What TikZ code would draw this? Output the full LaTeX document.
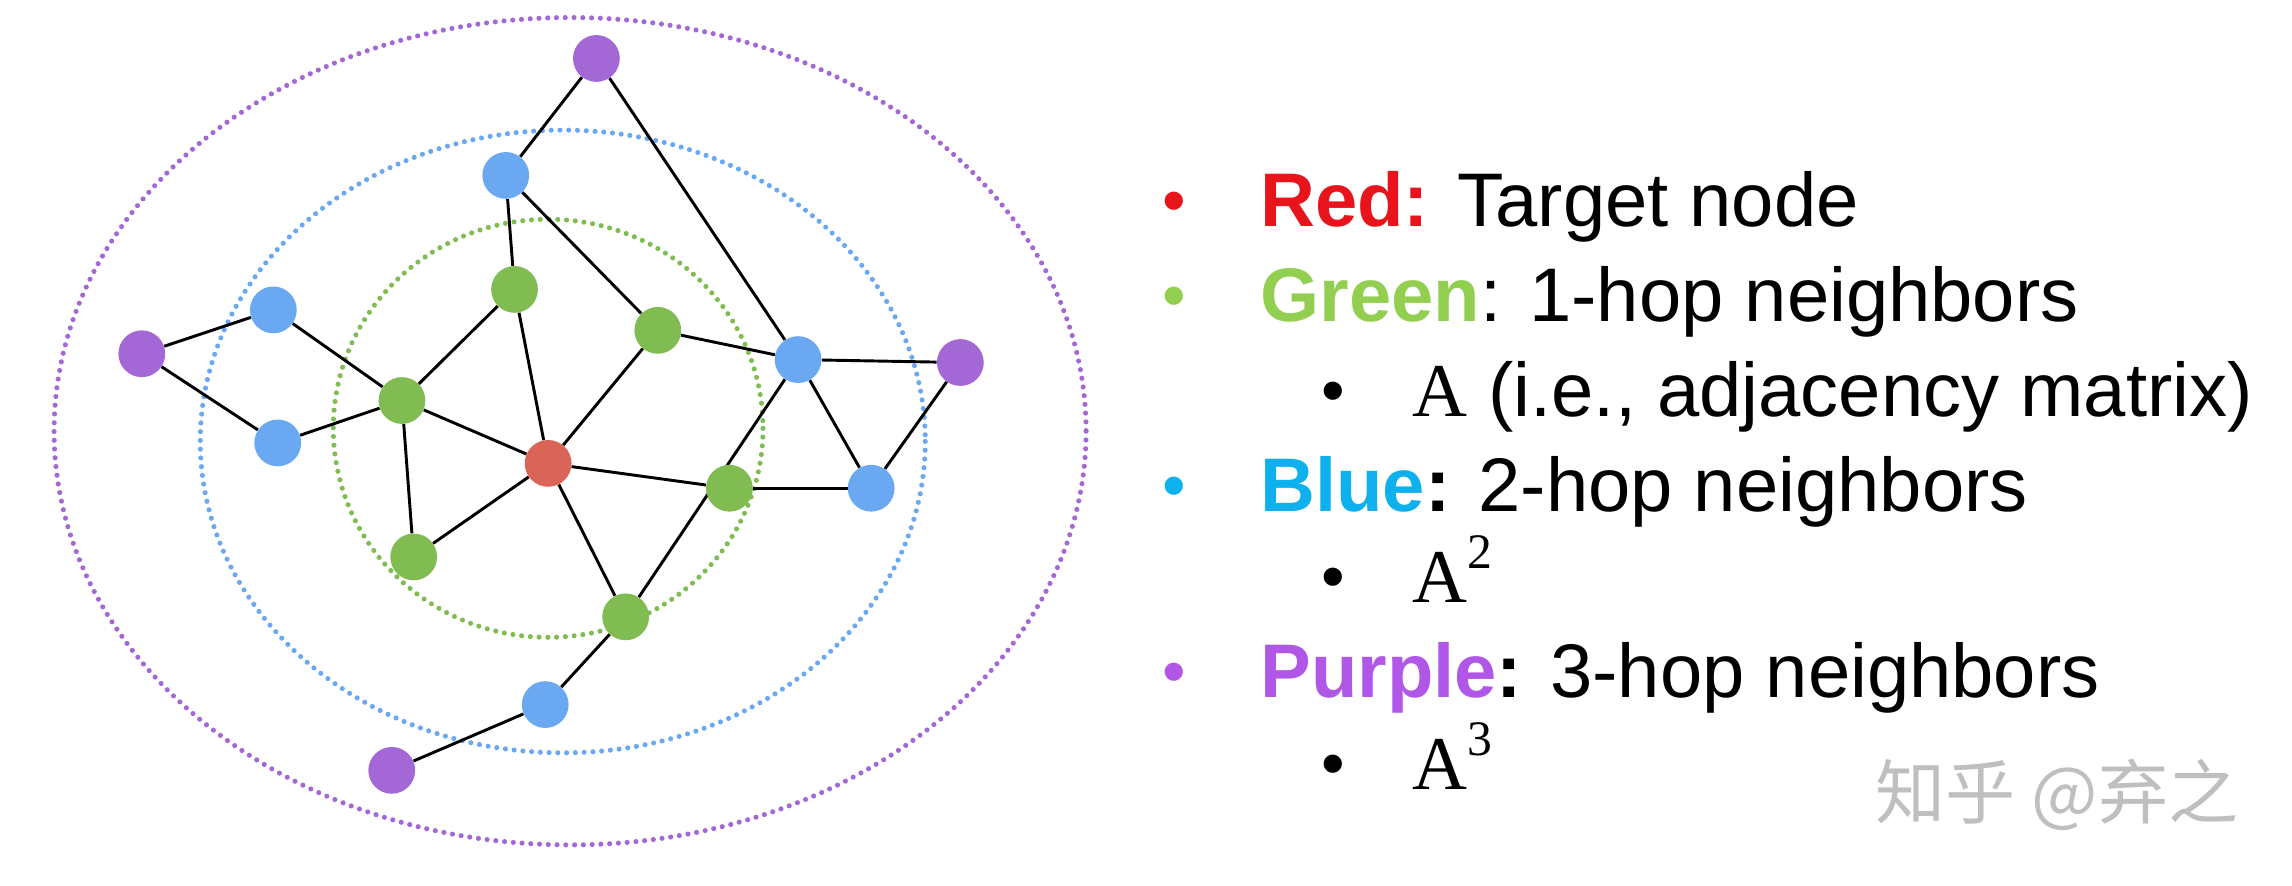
\documentclass[tikz,border=0pt]{standalone}
\usepackage{fontspec}
\setmainfont{Liberation Sans}
\newfontfamily\cjk{Noto Sans CJK SC}
\newfontfamily\serifA{Liberation Serif}
\definecolor{cred}{HTML}{DB6459}
\definecolor{cgreen}{HTML}{80BC52}
\definecolor{cblue}{HTML}{6AA9F2}
\definecolor{cpurple}{HTML}{A467D6}
\definecolor{tred}{HTML}{E8141C}
\definecolor{tgreen}{HTML}{92CF50}
\definecolor{tblue}{HTML}{0FB0EE}
\definecolor{tpurple}{HTML}{B057E8}
\newcommand{\matA}[1]{{\serifA A}\raisebox{0.45em}{\fontsize{34}{36}\selectfont\serifA #1}}
\begin{document}
\begin{tikzpicture}[x=1pt,y=-1pt,
  vtx/.style={circle,minimum size=32pt,inner sep=0pt},
  ring/.style={line width=3.5pt,dash pattern=on 0pt off 6pt,line cap=round},
  txt/.style={anchor=base west,font=\fontsize{52}{56}\selectfont,inner sep=0pt},
  bul/.style={anchor=base,font=\fontsize{46}{50}\selectfont,inner sep=0pt}]
\useasboundingbox (0,0) rectangle (1568,606);
\draw[ring,cgreen] (375,293) ellipse [x radius=147,y radius=143];
\draw[ring,cblue] (385,302) ellipse [x radius=248,y radius=213];
\draw[ring,cpurple] (390,295) ellipse [x radius=353,y radius=283];
\node[vtx] (R) at (375,317) {};
\foreach \n/\x/\y in {g1/352/198,g2/450/226,g3/275/274,g4/499/334,g5/283/381,g6/428/422,
  b1/346/120,b2/187/212,b3/190/303,b4/546/246,b5/596/334,b6/373/482,
  p1/408/40,p2/97/242,p3/657/248,p4/268/527}
  \node[vtx] (\n) at (\x,\y) {};
\foreach \a/\b in {p1/b1,p1/b4,b1/g1,b1/g2,g1/g3,g1/R,g2/R,g2/b4,b2/p2,b2/g3,b3/p2,b3/g3,g3/R,g3/g5,R/g5,R/g4,R/g6,b4/g6,g4/b5,b4/p3,b4/b5,b5/p3,g6/b6,b6/p4}
  \draw[line width=2pt] (\a) -- (\b);
\fill[cred] (R) circle (16);
\foreach \n in {g1,g2,g3,g4,g5,g6} \fill[cgreen] (\n) circle (16);
\foreach \n in {b1,b2,b3,b4,b5,b6} \fill[cblue] (\n) circle (16);
\foreach \n in {p1,p2,p3,p4} \fill[cpurple] (\n) circle (16);
% legend
\node[bul,text=tred] (d1) at (803,153) {•};
\node[txt] (t1) at (862,155) {\textbf{\color{tred}Red:} Target node};
\node[bul,text=tgreen] (d2) at (803,218) {•};
\node[txt] (t2) at (862,220) {\textbf{\color{tgreen}Green}: 1-hop neighbors};
\node[bul] (d3) at (912,283) {•};
\node[txt] (t3) at (966,285) {\serifA A\rmfamily\ (i.e., adjacency matrix)};
\node[bul,text=tblue] (d4) at (803,348) {•};
\node[txt] (t4) at (862,350) {\textbf{\color{tblue}Blue}\textbf{:} 2-hop neighbors};
\node[bul] (d5) at (912,410) {•};
\node[txt] (t5) at (966,412) {\matA{2}};
\node[bul,text=tpurple] (d6) at (803,475) {•};
\node[txt] (t6) at (862,477) {\textbf{\color{tpurple}Purple}\textbf{:} 3-hop neighbors};
\node[bul] (d7) at (912,538) {•};
\node[txt] (t7) at (966,540) {\matA{3}};
\node[txt,text=black!25,font=\cjk\fontsize{48}{52}\selectfont] (wm) at (1283,560) {知乎 @弃之};
\end{tikzpicture}
\end{document}
